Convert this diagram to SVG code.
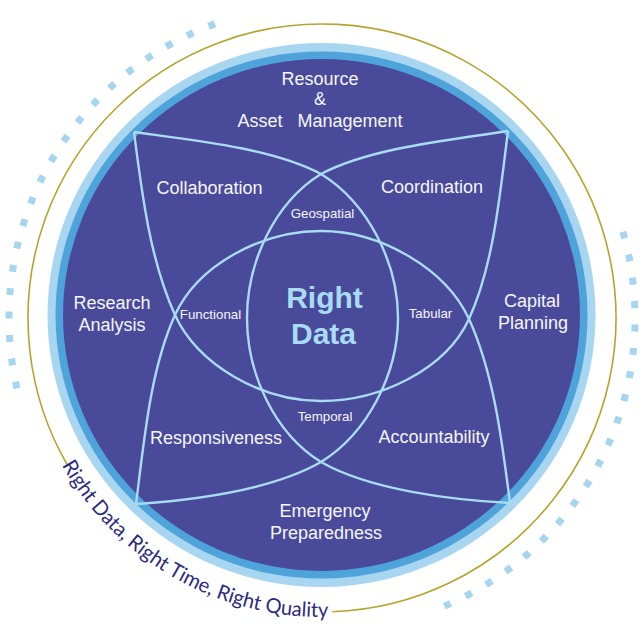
<svg xmlns="http://www.w3.org/2000/svg" xmlns:xlink="http://www.w3.org/1999/xlink" width="640" height="640" viewBox="0 0 640 640">
<style>
.lbl{font-family:"Liberation Sans",Arial,sans-serif;font-size:18px;fill:#f6f6fb;text-anchor:middle}
.sm{font-family:"Liberation Sans",Arial,sans-serif;font-size:13.3px;fill:#f6f6fb;text-anchor:middle}
.big{font-family:"Liberation Sans",Arial,sans-serif;font-size:30px;font-weight:bold;fill:#a8dcf4;text-anchor:middle}
.curve{fill:none;stroke:#a9dbf3;stroke-width:2.4}
.dash{fill:none;stroke:#a6d5f0;stroke-width:7;stroke-dasharray:7 16.49}
.tag{font-family:Lato,"Open Sans",sans-serif;font-size:20.5px;fill:#2d2b7f}
</style>
<defs>
<path id="tagPath" d="M 61.8 465.2 A 299 299 0 0 0 348.1 615.9"/>
</defs>
<rect width="640" height="640" fill="#ffffff"/>
<g id="outer-rings">
<path class="dash" d="M 17.0 388.4 A 313 313 0 0 1 214.9 23.9"/>
<path class="dash" d="M 622.9 231.7 A 313 313 0 0 1 444.3 606.1"/>
<path d="M 332.3 611.8 A 294 294 0 1 0 67.4 465" fill="none" stroke="#b3a52e" stroke-width="1.6"/>
<ellipse cx="321.5" cy="315" rx="274" ry="272" fill="#a8d5f0"/>
<ellipse cx="321.5" cy="315" rx="266" ry="263.5" fill="#4ea3da"/>
<ellipse cx="321.5" cy="315" rx="258.5" ry="256" fill="#4a4a9b"/>
</g>
<g id="connectors">
<path class="curve" d="M 508 131 C 450 140 370 148 321 174 C 274 203 247 263 247 318 C 247 373 274 433 321 462 C 370 490 452 500 510 503"/>
<path class="curve" d="M 134 132 C 192 140 272 148 321 174 C 368 203 398 263 398 318 C 398 373 368 433 321 462 C 272 490 194 500 136 504"/>
<path class="curve" d="M 134 132 C 142 194 150 260 175 315 C 198 365 261 401 321 401 C 381 401 446 369 469 319 C 494 264 500 193 508 131"/>
<path class="curve" d="M 136 504 C 144 442 150 370 175 315 C 198 265 261 231 321 231 C 381 231 446 269 469 319 C 494 374 502 441 510 503"/>
</g>
<g id="node-resource"><text class="lbl" x="320" y="85">Resource</text><text class="lbl" x="320" y="105">&amp;</text><text class="lbl" x="320" y="127" style="white-space:pre">Asset   Management</text></g>
<g id="node-collaboration"><text class="lbl" x="209.5" y="194">Collaboration</text></g>
<g id="node-coordination"><text class="lbl" x="432" y="193">Coordination</text></g>
<g id="node-geospatial"><text class="sm" x="322.5" y="218">Geospatial</text></g>
<g id="node-research"><text class="lbl" x="112" y="309">Research</text><text class="lbl" x="112" y="331">Analysis</text></g>
<g id="node-functional"><text class="sm" x="210.5" y="319">Functional</text></g>
<g id="node-right-data"><text class="big" x="324.5" y="308">Right</text><text class="big" x="323.5" y="344">Data</text></g>
<g id="node-tabular"><text class="sm" x="430.5" y="318">Tabular</text></g>
<g id="node-capital"><text class="lbl" x="532" y="307">Capital</text><text class="lbl" x="533" y="329">Planning</text></g>
<g id="node-temporal"><text class="sm" x="325" y="421">Temporal</text></g>
<g id="node-responsiveness"><text class="lbl" x="216" y="444">Responsiveness</text></g>
<g id="node-accountability"><text class="lbl" x="434" y="443">Accountability</text></g>
<g id="node-emergency"><text class="lbl" x="325" y="517">Emergency</text><text class="lbl" x="326" y="539">Preparedness</text></g>
<g id="tagline"><text class="tag"><textPath xlink:href="#tagPath" href="#tagPath" textLength="322" lengthAdjust="spacingAndGlyphs">Right Data, Right Time, Right Quality</textPath></text></g>
</svg>
